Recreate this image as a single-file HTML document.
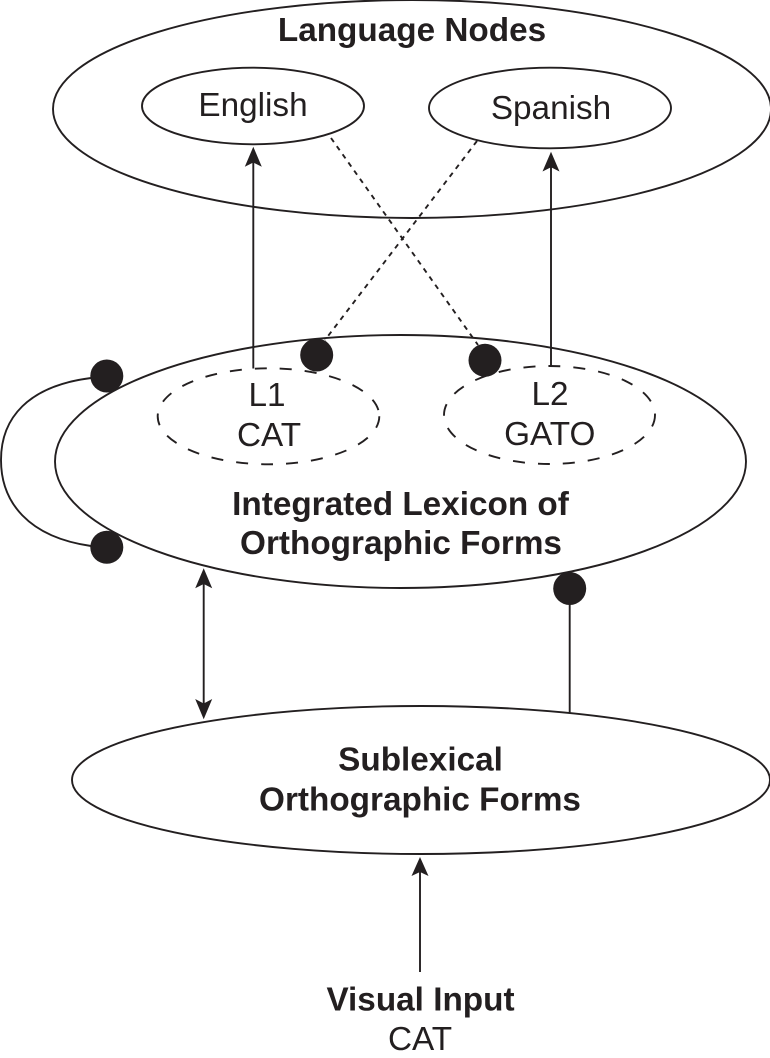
<!DOCTYPE html>
<html>
<head>
<meta charset="utf-8">
<style>
html,body{margin:0;padding:0;background:#fff;}
svg{display:block;}
text{font-family:"Liberation Sans",Arial,sans-serif;fill:#231f20;text-anchor:middle;font-size:33.3px;}
.b{font-weight:bold;}
</style>
</head>
<body>
<svg width="770" height="1058" viewBox="0 0 770 1058" xmlns="http://www.w3.org/2000/svg">
<g fill="none" stroke="#231f20" stroke-width="1.9">
<ellipse cx="412" cy="109" rx="359" ry="109"/>
<ellipse cx="253" cy="106" rx="111" ry="38.3"/>
<ellipse cx="550" cy="108" rx="121" ry="40.3"/>
<ellipse cx="400.5" cy="461.5" rx="345.5" ry="126.5"/>
<ellipse cx="268.5" cy="416.3" rx="110.8" ry="48" stroke-dasharray="12 13"/>
<ellipse cx="549.5" cy="415" rx="105.5" ry="49" stroke-dasharray="12 13"/>
<ellipse cx="421" cy="780" rx="349" ry="74"/>
<line x1="253.3" y1="368.5" x2="253.3" y2="162"/>
<line x1="551" y1="366" x2="551" y2="167"/>
<line x1="331" y1="138" x2="478" y2="345" stroke-dasharray="5 5"/>
<line x1="477" y1="141" x2="325" y2="340" stroke-dasharray="5 5"/>
<path d="M91 378 C28 386 1 418 1 460 C1 502 28 537 91 546"/>
<line x1="203.7" y1="584" x2="203.7" y2="704"/>
<line x1="569.7" y1="600" x2="569.7" y2="712.5"/>
<line x1="420" y1="972" x2="420" y2="872"/>
</g>
<g fill="#231f20">
<polygon points="253.3,146.7 244.8,166.7 253.3,162.5 261.8,166.7"/>
<polygon points="551,151.7 542.5,171.5 551,167.3 559.5,171.5"/>
<polygon points="203.7,568.3 195.2,588.3 203.7,584 212.2,588.3"/>
<polygon points="203.7,719.3 195.2,699 203.7,703.5 212.2,699"/>
<polygon points="420,857 411.5,876 420,872 428.5,876"/>
<circle cx="316.7" cy="355" r="16.5"/>
<circle cx="485" cy="360.3" r="16.5"/>
<circle cx="106.8" cy="376" r="16.5"/>
<circle cx="106.8" cy="547.3" r="16.5"/>
<circle cx="569.7" cy="588.5" r="16.5"/>
</g>
<text class="b" x="412" y="41">Language Nodes</text>
<text x="253" y="116">English</text>
<text x="551" y="119">Spanish</text>
<text x="267" y="406">L1</text>
<text x="269" y="446">CAT</text>
<text x="550" y="405">L2</text>
<text x="549.8" y="445">GATO</text>
<text class="b" x="400.5" y="515">Integrated Lexicon of</text>
<text class="b" x="401" y="554">Orthographic Forms</text>
<text class="b" x="420.5" y="770.7">Sublexical</text>
<text class="b" x="420" y="810.7">Orthographic Forms</text>
<text class="b" x="420.5" y="1010.7">Visual Input</text>
<text x="420" y="1050">CAT</text>
</svg>
</body>
</html>
